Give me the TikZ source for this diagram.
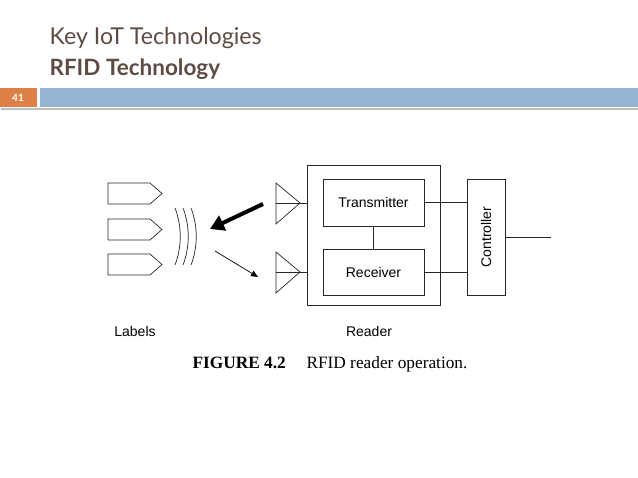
\documentclass[tikz,border=0pt]{standalone}
\usepackage{fontspec}
\setmainfont{Liberation Serif}
\newfontfamily\hd{Lato}
\newfontfamily\ar{Liberation Sans}
\usetikzlibrary{arrows.meta}
\definecolor{hdc}{HTML}{5E4B43}
\definecolor{barb}{HTML}{94B6D2}
\definecolor{baro}{HTML}{DD8047}
\begin{document}
\begin{tikzpicture}[x=1pt,y=-1pt,
  ln/.style={draw=black!85,line width=0.7pt},
  bx/.style={ln,rectangle,inner sep=0pt},
  lab/.style={font=\ar\fontsize{14}{16}\selectfont}]
\useasboundingbox (0,0) rectangle (638,478);
\node[anchor=west,text=hdc,font=\hd\fontsize{23.2}{25}\selectfont] (t1) at (46,38) {Key IoT Technologies};
\node[anchor=west,text=hdc,font=\hd\bfseries\fontsize{22.5}{25}\selectfont] (t2) at (46,69) {RFID Technology};
\fill[black!25] (1,108) rectangle (638,110);
\fill[baro] (0,88) rectangle (37,107);
\node[text=white,font=\hd\bfseries\fontsize{10}{11}\selectfont] (pg) at (18,98) {41};
\fill[barb] (40,88) rectangle (638,107);
% tags
\foreach \i/\y in {a/183,b/219,c/254}{
  \draw[ln] (108,\y) -- (150,\y) -- (162,\y+10.5) -- (150,\y+21) -- (108,\y+21) -- cycle;
}
% waves
\foreach \dx in {0,8,16}{
  \draw[ln] (175+\dx,208) .. controls (182+\dx,226) and (182+\dx,247) .. (175+\dx,265);
}
\coordinate (ta) at (263,204); \coordinate (tb) at (210,229);
\draw[line width=4pt,-{Triangle[length=14pt,width=16pt]}] (ta) -- (tb);
\coordinate (sa) at (215,251); \coordinate (sb) at (258,277);
\draw[line width=0.7pt,-{Triangle[length=7pt,width=6pt]}] (sa) -- (sb);
% antennas
\draw[ln] (276,183) -- (300,203) -- (276,224) -- cycle;
\draw[ln] (276,203) -- (307,203);
\draw[ln] (276,252) -- (300,272) -- (276,293) -- cycle;
\draw[ln] (276,272) -- (307,272);
% reader
\draw[ln] (307,165) rectangle (440,305);
\node[bx,minimum width=101pt,minimum height=47pt,lab] (tx) at (373.5,202.5) {Transmitter};
\node[bx,minimum width=101pt,minimum height=46pt,lab] (rx) at (373.5,272) {Receiver};
\draw[ln] (tx) -- (rx);
\node[bx,minimum width=38pt,minimum height=116pt] (ct) at (486,237) {};
\node[lab,rotate=90] (ctl) at (ct) {Controller};
\draw[ln] (tx.east) -- (ct.west|-tx.east);
\draw[ln] (rx.east) -- (ct.west|-rx.east);
\coordinate (out) at (551,237);
\draw[ln] (ct.east) -- (out);
\node[lab] (l1) at (135,331) {Labels};
\node[lab] (l2) at (369,331) {Reader};
\node[font=\fontsize{17.3}{19}\selectfont] (cap) at (330,364) {\textbf{FIGURE 4.2}\hspace{1.2em}RFID reader operation.};
\end{tikzpicture}
\end{document}
